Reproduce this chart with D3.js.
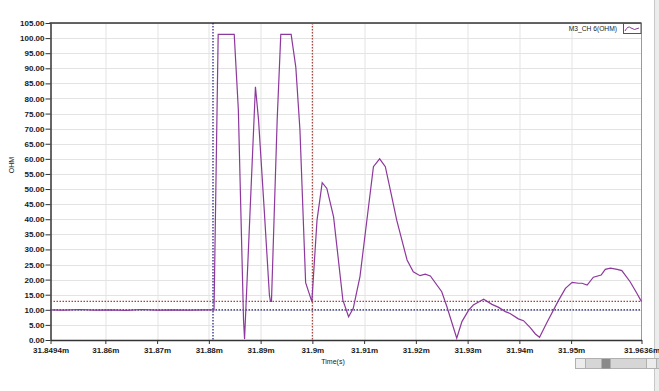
<!DOCTYPE html>
<html>
<head>
<meta charset="utf-8">
<script src="https://cdn.jsdelivr.net/npm/d3@7"></script>
<style>
  body { margin: 0; background: #fff; }
  svg { display: block; font-family: "Liberation Sans", Arial, sans-serif; }
</style>
</head>
<body>
<svg id="chart"></svg>
<script>
'use strict';
// time in ms (labels carry the "m" suffix), resistance in OHM
var times = [31.8494, 31.852, 31.855, 31.858, 31.861, 31.864, 31.867, 31.870, 31.873, 31.876, 31.879, 31.8808,
  31.8810, 31.8818, 31.8849, 31.8857, 31.8867, 31.8869, 31.8890, 31.8896, 31.8907, 31.8917, 31.8919, 31.8921,
  31.8932, 31.8939, 31.8959, 31.8968, 31.8976, 31.8987, 31.8999, 31.9009, 31.9019, 31.9028, 31.9041, 31.9059,
  31.9070, 31.9079, 31.9092, 31.9118, 31.9130, 31.9141, 31.9150, 31.9163, 31.9183, 31.9195, 31.9208, 31.9218,
  31.9228, 31.9250, 31.9260, 31.9279, 31.9289, 31.9302, 31.9311, 31.9331, 31.9347, 31.9360, 31.9373, 31.9382,
  31.9398, 31.9408, 31.9421, 31.9431, 31.9439, 31.9453, 31.9476, 31.9489, 31.9502, 31.9514, 31.9521, 31.9531,
  31.9543, 31.9558, 31.9566, 31.9576, 31.9589, 31.9598, 31.9614, 31.9627, 31.9636];
var ohms = [10.0, 9.9, 10.1, 9.9, 10.0, 9.8, 10.1, 9.9, 10.0, 9.9, 10.0, 10.0,
  10.0, 101.2, 101.2, 76.2, 6.6, 0.3, 83.9, 72.9, 43.1, 14.9, 12.8, 12.8,
  72.9, 101.2, 101.2, 90.4, 69.6, 19.0, 12.7, 39.7, 52.1, 50.2, 40.8, 13.2,
  7.7, 10.5, 21.0, 57.4, 60.0, 57.4, 50.2, 39.7, 26.5, 22.6, 21.3, 21.8,
  21.2, 16.0, 11.0, 0.6, 6.1, 9.9, 11.6, 13.5, 11.8, 10.8, 9.4, 8.8,
  7.0, 6.4, 4.1, 2.0, 0.9, 5.7, 13.2, 17.1, 19.1, 18.8, 18.8, 18.2,
  20.8, 21.5, 23.4, 23.8, 23.4, 23.0, 19.3, 15.5, 12.7];
var xTicks = [31.8494, 31.86, 31.87, 31.88, 31.89, 31.9, 31.91, 31.92, 31.93, 31.94, 31.95, 31.9636];
var yTicks = d3.range(0, 106, 5);
var seriesName = 'M3_CH 6(OHM)';
// cursors
var cursorBlue = { t: 31.8808, v: 10.0 };
var cursorRed = { t: 31.9000, v: 12.8 };

var canvasWidth = 659;
var canvasHeight = 391;
var margin = { top: 23, right: 17.5, bottom: 51, left: 50.5 };
var width = canvasWidth - margin.left - margin.right;
var height = canvasHeight - margin.top - margin.bottom;

var svg = d3.select('#chart').attr('width', canvasWidth).attr('height', canvasHeight);

// side panel strip on the right
svg.append('rect').attr('x', 654).attr('y', 0).attr('width', 5).attr('height', canvasHeight)
  .attr('fill', '#ececec');
svg.append('line').attr('x1', 654.5).attr('x2', 654.5).attr('y1', 0).attr('y2', canvasHeight)
  .attr('stroke', '#c8c8c8');

var g = svg.append('g').attr('transform', 'translate(' + margin.left + ',' + margin.top + ')');

var xScale = d3.scaleLinear().domain([31.8494, 31.9636]).range([0, width]);
var yScale = d3.scaleLinear().domain([0, 105]).range([height, 0]);

// grid
g.append('g').selectAll('line').data(yTicks).enter().append('line')
  .attr('x1', 0).attr('x2', width)
  .attr('y1', function(d) { return Math.round(yScale(d)) + 0.5; })
  .attr('y2', function(d) { return Math.round(yScale(d)) + 0.5; })
  .attr('stroke', '#e3e3e3');
g.append('g').selectAll('line').data(xTicks.slice(1, -1)).enter().append('line')
  .attr('y1', 0).attr('y2', height)
  .attr('x1', function(d) { return Math.round(xScale(d)) + 0.5; })
  .attr('x2', function(d) { return Math.round(xScale(d)) + 0.5; })
  .attr('stroke', '#e3e3e3');

// frame: top dark, right grey
g.append('line').attr('x1', -1).attr('x2', width).attr('y1', 0).attr('y2', 0)
  .attr('stroke', '#333').attr('stroke-width', 1.5);
g.append('line').attr('x1', width).attr('x2', width).attr('y1', 0).attr('y2', height)
  .attr('stroke', '#999');

// axes
var xAxis = g.append('g').attr('class', 'x axis')
  .attr('transform', 'translate(0,' + height + ')')
  .call(d3.axisBottom(xScale).tickValues(xTicks).tickSize(4).tickSizeOuter(0)
    .tickFormat(function(d) { return String(d) + 'm'; }));
var yAxis = g.append('g').attr('class', 'y axis')
  .call(d3.axisLeft(yScale).tickValues(yTicks).tickSize(5).tickSizeOuter(0)
    .tickFormat(function(d) { return d.toFixed(2); }));
[xAxis, yAxis].forEach(function(a) {
  a.select('.domain').attr('stroke', '#333').attr('stroke-width', 1.5);
  a.selectAll('.tick line').attr('stroke', '#333');
  a.selectAll('.tick text').attr('fill', '#1a1a1a').style('font-size', '8px').style('font-weight', 'bold');
});
yAxis.selectAll('.tick text').attr('x', -6);
xAxis.selectAll('.tick text').attr('y', 7);

// cursors
function hLine(v, color) {
  g.append('line').attr('x1', 0).attr('x2', width)
    .attr('y1', yScale(v)).attr('y2', yScale(v))
    .attr('stroke', color).attr('stroke-width', 1.2).attr('stroke-dasharray', '1.5,1.5');
}
function vLine(t, color) {
  g.append('line').attr('y1', 0).attr('y2', height)
    .attr('x1', xScale(t)).attr('x2', xScale(t))
    .attr('stroke', color).attr('stroke-width', 1.2).attr('stroke-dasharray', '1.5,1.5');
}
hLine(cursorRed.v, '#a3443c');
vLine(cursorRed.t, '#a3443c');
hLine(cursorBlue.v, '#1c1c78');
vLine(cursorBlue.t, '#1c1c78');

// series line
var line = d3.line()
  .x(function(d, i) { return xScale(times[i]); })
  .y(function(d) { return yScale(d); });
g.append('path').datum(ohms)
  .attr('d', line)
  .attr('fill', 'none')
  .attr('stroke', '#8d389c')
  .attr('stroke-width', 1.2);

// legend
var legend = svg.append('g');
legend.append('text').attr('x', 617).attr('y', 31).attr('text-anchor', 'end')
  .style('font-size', '6.7px').attr('fill', '#222').text(seriesName);
legend.append('rect').attr('x', 623.5).attr('y', 23.5).attr('width', 17.5).attr('height', 10)
  .attr('fill', '#fff').attr('stroke', '#555');
legend.append('path')
  .attr('d', 'M625,31 Q628,25 631,28 T639,28')
  .attr('fill', 'none').attr('stroke', '#8d389c').attr('stroke-width', 1);

// axis titles
svg.append('text').attr('x', 333).attr('y', 364).attr('text-anchor', 'middle')
  .style('font-size', '7px').attr('fill', '#222').text('Time(s)');
svg.append('text').attr('transform', 'translate(14,165) rotate(-90)').attr('text-anchor', 'middle')
  .style('font-size', '7px').attr('fill', '#222').text('OHM');

// scrollbar (decorative widget under the chart)
var sb = svg.append('g');
sb.append('rect').attr('x', 575.5).attr('y', 358.5).attr('width', 84).attr('height', 10)
  .attr('fill', '#d6d6d6').attr('stroke', '#b0b0b0');
sb.append('rect').attr('x', 575.5).attr('y', 358.5).attr('width', 10).attr('height', 10)
  .attr('fill', '#ececec').attr('stroke', '#b0b0b0');
sb.append('rect').attr('x', 646.5).attr('y', 358.5).attr('width', 10).attr('height', 10)
  .attr('fill', '#ececec').attr('stroke', '#b0b0b0');
sb.append('rect').attr('x', 601.5).attr('y', 359).attr('width', 9).attr('height', 9.5)
  .attr('fill', '#8a8a8a');
</script>
</body>
</html>
